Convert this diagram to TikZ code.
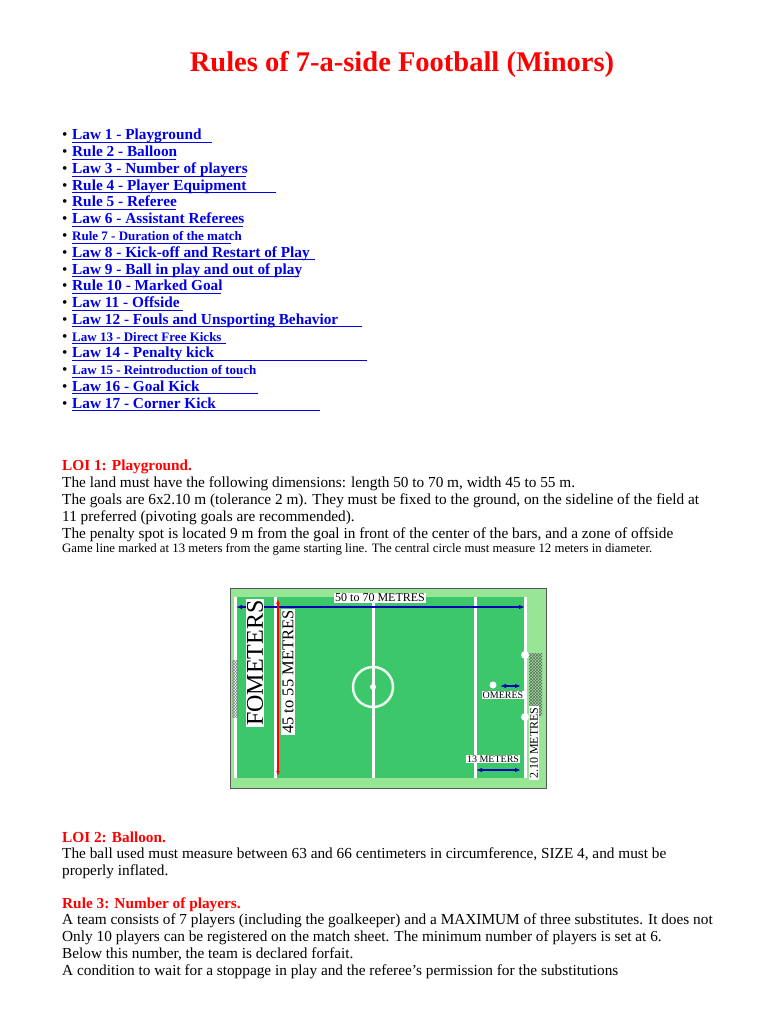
\documentclass[tikz,border=0pt]{standalone}
\usepackage{fontspec}
\setmainfont{Liberation Serif}
\usetikzlibrary{arrows.meta,patterns}
\definecolor{lnk}{RGB}{0,0,230}
\definecolor{dg}{RGB}{60,200,106}
\definecolor{lg}{RGB}{150,230,150}
\begin{document}
\begin{tikzpicture}[x=1pt,y=-1pt,
  lk/.style={anchor=base west,inner sep=0,text=lnk,font=\fontsize{15.3}{15.3}\selectfont\bfseries},
  lks/.style={anchor=base west,inner sep=0,text=lnk,font=\fontsize{13}{13}\selectfont\bfseries},
  bl/.style={anchor=base west,inner sep=0,font=\fontsize{15.3}{15.3}\selectfont},
  hd/.style={anchor=base west,inner sep=0,text=red,font=\fontsize{15.3}{15.3}\selectfont\bfseries},
  lab/.style={fill=white,inner sep=1pt,font=\fontsize{12}{12}\selectfont},
  wl/.style={white,line width=3pt},
  ba/.style={blue!70!black,line width=1.2pt,{Latex[length=6pt]}-{Latex[length=6pt]}}]
\useasboundingbox (0,0) rectangle (768,1024);
\node[text=red,font=\fontsize{28.5}{28.5}\selectfont\bfseries] (title) at (402,65) {Rules of 7-a-side Football (Minors)};
\foreach \t/\e/\s [count=\i] in {Law 1 - Playground/212/lk,Rule 2 - Balloon/176/lk,Law 3 - Number of players/246/lk,Rule 4 - Player Equipment/276/lk,Rule 5 - Referee/176/lk,Law 6 - Assistant Referees/243/lk,Rule 7 - Duration of the match/231/lks,Law 8 - Kick-off and Restart of Play/315/lk,Law 9 - Ball in play and out of play/299/lk,Rule 10 - Marked Goal/221/lk,Law 11 - Offside/183/lk,Law 12 - Fouls and Unsporting Behavior/362/lk,Law 13 - Direct Free Kicks/226/lks,Law 14 - Penalty kick/367/lk,Law 15 - Reintroduction of touch/243/lks,Law 16 - Goal Kick/258/lk,Law 17 - Corner Kick/320/lk}{
  \pgfmathsetmacro\yy{140+(\i-1)*16.75}
  \node[bl] (b\i) at (62,\yy) {•};
  \node[\s] (l\i) at (72,\yy) {\t};
  \draw[lnk,line width=0.8pt] (72,\yy+2.5) -- (\e,\yy+2.5);
}
\node[hd] (h1) at (62,470) {LOI 1: Playground.};
\node[bl] (t1) at (62,487) {The land must have the following dimensions: length 50 to 70 m, width 45 to 55 m.};
\node[bl] (t2) at (62,504) {The goals are 6x2.10 m (tolerance 2 m). They must be fixed to the ground, on the sideline of the field at};
\node[bl] (t3) at (62,521) {11 preferred (pivoting goals are recommended).};
\node[bl] (t4) at (62,538) {The penalty spot is located 9 m from the goal in front of the center of the bars, and a zone of offside};
\node[anchor=base west,inner sep=0,font=\fontsize{12.8}{12.8}\selectfont] (t5) at (62,552) {Game line marked at 13 meters from the game starting line. The central circle must measure 12 meters in diameter.};
% field
\fill[lg] (230,588) rectangle (546,788);
\draw[gray!70!black,line width=0.8pt] (230,588) rectangle (546,788);
\fill[dg] (236,597) rectangle (525,778);
\draw[wl] (235,597) -- (235,778);
\draw[wl] (275,597) -- (275,778);
\draw[wl] (373,597) -- (373,778);
\draw[wl] (475,597) -- (475,778);
\draw[wl] (525,597) -- (525,778);
\draw[white!90!dg,line width=2.5pt] (373,687) circle (20);
\fill[white] (373,687) circle (3);
\fill[white] (493,685) circle (3.5);
\fill[white] (525,655) circle (4);\fill[white] (525,717) circle (4);
\fill[pattern=crosshatch,pattern color=gray] (232,660) rectangle (238,717);
\fill[pattern=crosshatch,pattern color=gray!80!black] (529,653) rectangle (542,715);
\draw[ba] (236,607) -- (525,607);
\node[lab] (w) at (380,598) {50 to 70 METRES};
\draw[red,line width=1.2pt,{Latex[length=5pt]}-{Latex[length=5pt]}] (278,599) -- (278,776);
\node[lab,rotate=90,font=\fontsize{16.5}{16.5}\selectfont] (h) at (288,672) {45 to 55 METRES};
\node[lab,rotate=90,font=\fontsize{24}{24}\selectfont] (f) at (255,663) {FOMETERS};
\draw[ba] (500,686) -- (521,686);
\node[lab,font=\fontsize{10}{10}\selectfont] (o) at (503,695) {OMERES};
\draw[ba] (476,770) -- (521,770);
\node[lab,font=\fontsize{10}{10}\selectfont] (m) at (493,759) {13 METERS};
\node[lab,rotate=90,font=\fontsize{12}{12}\selectfont] (g) at (534,743) {2.10 METRES};
% text 2
\node[hd] (h2) at (62,842) {LOI 2: Balloon.};
\node[bl] (u1) at (62,858) {The ball used must measure between 63 and 66 centimeters in circumference, SIZE 4, and must be};
\node[bl] (u2) at (62,875) {properly inflated.};
\node[hd] (h3) at (62,908) {Rule 3: Number of players.};
\node[bl] (v1) at (62,924) {A team consists of 7 players (including the goalkeeper) and a MAXIMUM of three substitutes. It does not};
\node[bl] (v2) at (62,941) {Only 10 players can be registered on the match sheet. The minimum number of players is set at 6.};
\node[bl] (v3) at (62,958) {Below this number, the team is declared forfait.};
\node[bl] (v4) at (62,975) {A condition to wait for a stoppage in play and the referee's permission for the substitutions};
\end{tikzpicture}
\end{document}
